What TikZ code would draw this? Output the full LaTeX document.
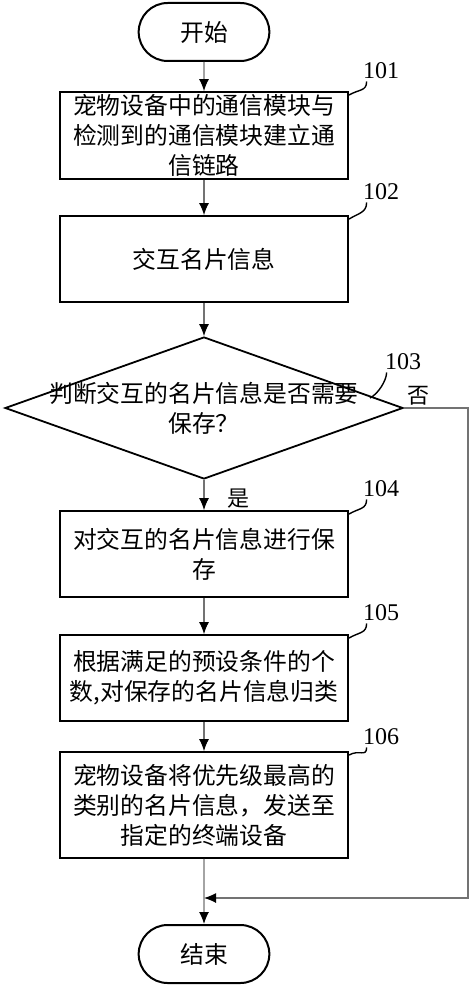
\documentclass[tikz,border=0pt]{standalone}
\usepackage{fontspec}
\setmainfont{Noto Sans CJK SC}
\newfontfamily\numfont{Liberation Serif}
\usetikzlibrary{shapes.geometric,shapes.misc,arrows.meta}

\tikzset{
  stepbox/.style={draw, line width=0.9pt, minimum width=144pt, inner sep=0pt, align=center, font=\fontsize{11.9}{15}\selectfont},
  term/.style={draw, line width=1pt, rounded rectangle, minimum width=72pt, minimum height=29pt, font=\fontsize{11.9}{15}\selectfont},
  decision/.style={draw, line width=0.9pt, diamond, minimum width=199pt, minimum height=71pt, inner sep=0pt},
  tag/.style={font=\numfont\fontsize{12}{14}\selectfont, inner sep=0pt},
  flow/.style={-{Latex[black,length=6pt,width=5pt]}, draw=black!55, line width=0.6pt},
  lead/.style={line width=0.7pt}
}

\begin{document}
\begin{tikzpicture}[x=0.5pt, y=-0.5pt]
\useasboundingbox (0,0) rectangle (474,989);

\node[term] (start) at (204,32) {开始};
\node[stepbox, minimum height=43.5pt] (s101) at (204,135.5) {宠物设备中的通信模块与\\检测到的通信模块建立通\\信链路};
\node[stepbox, minimum height=43pt] (s102) at (204,259) {交互名片信息};
\node[decision] (s103) at (204,408) {};
\node[align=center, inner sep=0pt, font=\fontsize{11.9}{15}\selectfont] (q103) at (s103) {判断交互的名片信息是否需要\\保存？};
\node[stepbox, minimum height=43pt] (s104) at (204,554) {对交互的名片信息进行保\\存};
\node[stepbox, minimum height=43pt] (s105) at (204,678) {根据满足的预设条件的个\\数,对保存的名片信息归类};
\node[stepbox, minimum height=53pt] (s106) at (204,805) {宠物设备将优先级最高的\\类别的名片信息，发送至\\指定的终端设备};
\node[term] (stop) at (204,954) {结束};

\node[tag] (l101) at (381,71) {101};
\node[tag] (l102) at (381,192) {102};
\node[tag] (l103) at (403,362) {103};
\node[tag] (l104) at (381,489) {104};
\node[tag] (l105) at (381,613) {105};
\node[tag] (l106) at (381,737) {106};

\node[font=\fontsize{11}{13}\selectfont] (yes) at (238,499) {是};
\node[font=\fontsize{11}{13}\selectfont] (no) at (418,396) {否};

\coordinate (merge) at (204,898);
\coordinate (corner) at (468,898);

% leaders
\draw[lead] ([yshift=-2pt]s101.north east) .. controls +(10,-6) and +(0,10) .. ([xshift=2pt,yshift=-1pt]l101.south west);
\draw[lead] ([yshift=-2pt]s102.north east) .. controls +(10,-6) and +(0,10) .. ([xshift=2pt,yshift=-1pt]l102.south west);
\draw[lead] (370,398) .. controls +(8,-4) and +(0,8) .. ([xshift=1pt,yshift=-1pt]l103.south west);
\draw[lead] ([yshift=-2pt]s104.north east) .. controls +(10,-6) and +(0,10) .. ([xshift=2pt,yshift=-1pt]l104.south west);
\draw[lead] ([yshift=-2pt]s105.north east) .. controls +(10,-6) and +(0,10) .. ([xshift=2pt,yshift=-1pt]l105.south west);
\draw[lead] ([yshift=-2pt]s106.north east) .. controls +(10,-6) and +(0,10) .. ([xshift=2pt,yshift=-1pt]l106.south west);

% connectors
\draw[flow] (start) -- (s101);
\draw[flow] (s101) -- (s102);
\draw[flow] (s102) -- (s103);
\draw[flow] (s103) -- (s104);
\draw[flow] (s104) -- (s105);
\draw[flow] (s105) -- (s106);
\draw[flow] (s106) -- (stop);
\draw[flow] (s103.east) -| (corner) -- (merge);
\end{tikzpicture}
\end{document}
